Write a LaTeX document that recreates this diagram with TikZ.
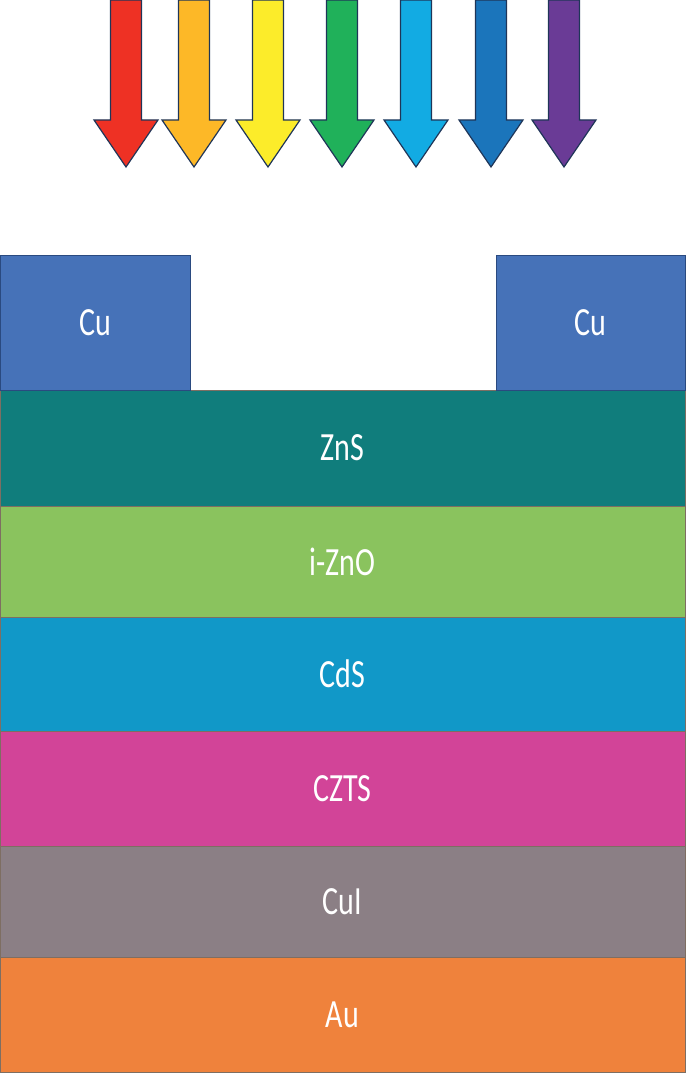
\documentclass[tikz,border=0pt]{standalone}
\usepackage{fontspec}
\setmainfont{Carlito}
\usepackage{tikz}
\usetikzlibrary{positioning}
\definecolor{cuBlue}{HTML}{4672B8}
\definecolor{cuEdge}{HTML}{2A4A80}
\definecolor{znsTeal}{HTML}{107D7C}
\definecolor{iznoGreen}{HTML}{8AC35E}
\definecolor{cdsBlue}{HTML}{1198C8}
\definecolor{cztsPink}{HTML}{D24498}
\definecolor{cuiGrey}{HTML}{8B7F85}
\definecolor{auOrange}{HTML}{EF823C}
\definecolor{layerEdge}{HTML}{7E6E62}
\definecolor{beamEdge}{HTML}{1F3558}
\definecolor{beamRed}{HTML}{EE3124}
\definecolor{beamOrange}{HTML}{FDB827}
\definecolor{beamYellow}{HTML}{FCEC2A}
\definecolor{beamGreen}{HTML}{20B15A}
\definecolor{beamCyan}{HTML}{12ABE3}
\definecolor{beamBlue}{HTML}{1B75BB}
\definecolor{beamPurple}{HTML}{6A3B96}
\tikzstyle{layer}=      [draw=layerEdge, line width=0.8pt, inner sep=0pt, outer sep=0pt, minimum width=685pt, text=white, font=\fontsize{40}{42}\selectfont]
\tikzstyle{contact}=    [layer, draw=cuEdge, fill=cuBlue]
\tikzstyle{beam}=       [draw=beamEdge, line width=1.2pt, line join=miter]
\newcommand{\lbl}[1]{\scalebox{0.75}[1]{#1}}

\begin{document}
\begin{tikzpicture}[x=1pt,y=-1pt]
 \useasboundingbox (0,0) rectangle (685,1075);
 \def\shaft{15.5}
 \def\head{32}
 \def\neck{120}
 \def\tip{167}

 % incoming light
 \foreach \cx/\col in {126/beamRed,194/beamOrange,268/beamYellow,342/beamGreen,416/beamCyan,491/beamBlue,564/beamPurple}
 {
  \draw[beam, fill=\col] (\cx-\shaft,0) -- (\cx+\shaft,0) -- (\cx+\shaft,\neck) -- (\cx+\head,\neck)
   -- (\cx,\tip) -- (\cx-\head,\neck) -- (\cx-\shaft,\neck) -- cycle;
 }

 % layer stack
 \node[layer, fill=znsTeal, minimum height=116pt, anchor=north west] (zns) at (0,390) {\lbl{ZnS}};
 \node[layer, fill=iznoGreen, minimum height=111pt, below=0pt of zns] (izno) {\lbl{i-ZnO}};
 \node[layer, fill=cdsBlue, minimum height=114pt, below=0pt of izno] (cds) {\lbl{CdS}};
 \node[layer, fill=cztsPink, minimum height=115pt, below=0pt of cds] (czts) {\lbl{CZTS}};
 \node[layer, fill=cuiGrey, minimum height=111pt, below=0pt of czts] (cui) {\lbl{CuI}};
 \node[layer, fill=auOrange, minimum height=115pt, below=0pt of cui] (au) {\lbl{Au}};

 % front contacts
 \node[contact, minimum width=190pt, minimum height=135pt, anchor=south west] (cuLeft) at (zns.north west) {\lbl{Cu}};
 \node[contact, minimum width=189pt, minimum height=135pt, anchor=south east] (cuRight) at (zns.north east) {\lbl{Cu}};
\end{tikzpicture}
\end{document}
